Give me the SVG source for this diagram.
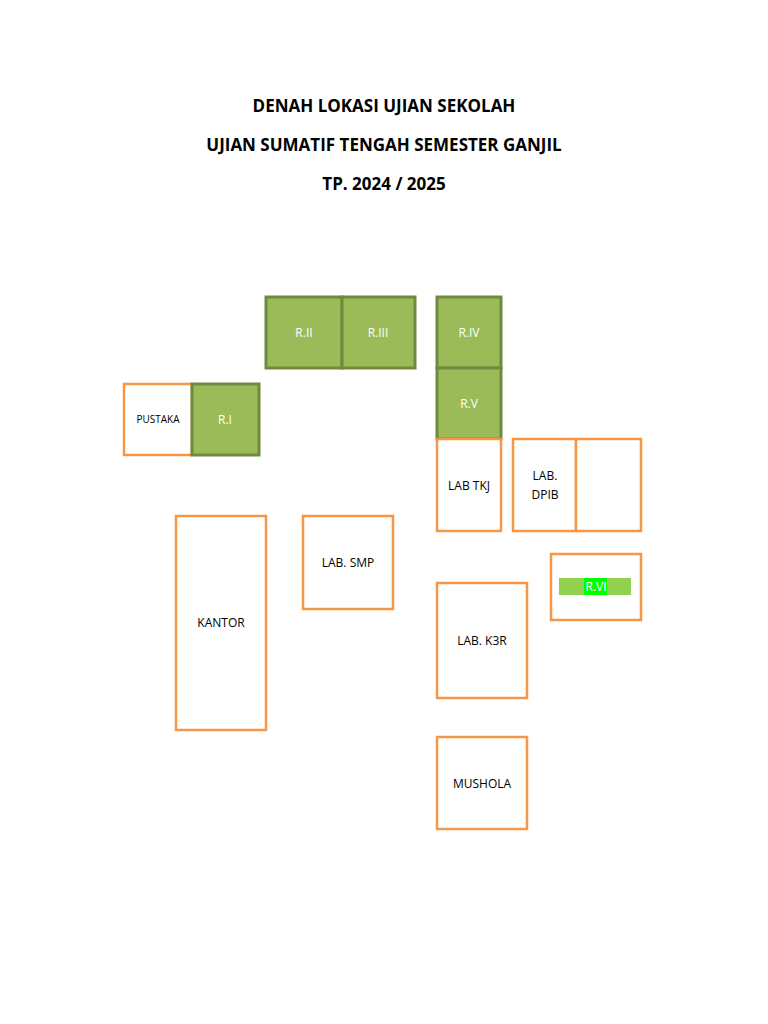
<svg xmlns="http://www.w3.org/2000/svg" width="768" height="1024" viewBox="0 0 768 1024">
<style>
.t{font-family:"Open Sans","Liberation Sans",sans-serif;font-weight:bold;font-size:17px;fill:#000;text-anchor:middle}
.g{fill:#9bbb59;stroke:#71893f;stroke-width:3}
.o{fill:#fff;stroke:#f79646;stroke-width:2.5}
.w{font-family:"Open Sans","Liberation Sans",sans-serif;font-size:12px;fill:#fff;text-anchor:middle}
.k{font-family:"Open Sans","Liberation Sans",sans-serif;font-size:12px;fill:#000;text-anchor:middle}
</style>
<rect width="768" height="1024" fill="#fff"/>
<text class="t" x="384" y="112">DENAH LOKASI UJIAN SEKOLAH</text>
<text class="t" x="384" y="151">UJIAN SUMATIF TENGAH SEMESTER GANJIL</text>
<text class="t" x="384" y="190">TP. 2024 / 2025</text>
<g id="r2"><rect class="g" x="266" y="297" width="76" height="71"/><text class="w" x="304" y="337">R.II</text></g>
<g id="r3"><rect class="g" x="342" y="297" width="73" height="71"/><text class="w" x="378" y="337">R.III</text></g>
<g id="r4"><rect class="g" x="437" y="297" width="64" height="71"/><text class="w" x="469" y="337">R.IV</text></g>
<g id="r5"><rect class="g" x="437" y="368" width="64" height="71"/><text class="w" x="469" y="408">R.V</text></g>
<g id="pustaka"><rect class="o" x="124" y="384" width="68" height="71"/><text class="k" x="158" y="423" style="font-size:10px">PUSTAKA</text></g>
<g id="r1"><rect class="g" x="192" y="384" width="67" height="71"/><text class="w" x="225" y="424">R.I</text></g>
<g id="labtkj"><rect class="o" x="437" y="439" width="64" height="92"/><text class="k" x="469" y="490">LAB TKJ</text></g>
<g id="dpib"><rect class="o" x="513" y="439" width="63" height="92"/><text class="k" x="545" y="480">LAB.</text><text class="k" x="545" y="499">DPIB</text></g>
<g id="blank"><rect class="o" x="576" y="439" width="65" height="92"/></g>
<g id="r6"><rect class="o" x="551" y="554" width="90" height="66"/><rect x="559" y="578" width="72" height="17" fill="#92d050"/><rect x="584" y="578" width="23" height="17" fill="#00ff00"/><text class="w" x="596" y="591">R.VI</text></g>
<g id="kantor"><rect class="o" x="176" y="516" width="90" height="214"/><text class="k" x="221" y="627">KANTOR</text></g>
<g id="labsmp"><rect class="o" x="303" y="516" width="90" height="93"/><text class="k" x="348" y="567">LAB. SMP</text></g>
<g id="k3r"><rect class="o" x="437" y="583" width="90" height="115"/><text class="k" x="482" y="645">LAB. K3R</text></g>
<g id="mushola"><rect class="o" x="437" y="737" width="90" height="92"/><text class="k" x="482" y="788">MUSHOLA</text></g>
<g id="connectors"/>
</svg>
